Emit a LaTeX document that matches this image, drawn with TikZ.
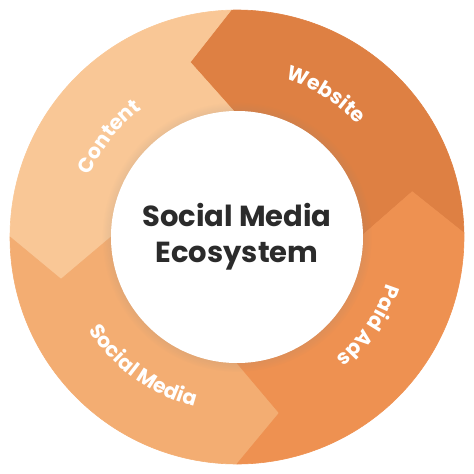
\documentclass[tikz,border=0pt]{standalone}
\usepackage{fontspec}
\setmainfont{Poppins}
\definecolor{peach(content)}{HTML}{F9C796}
\definecolor{burntorange(website)}{HTML}{DE8043}
\definecolor{orange(paidads)}{HTML}{EE9151}
\definecolor{sandybrown(social)}{HTML}{F3AD72}
\definecolor{charcoal(title)}{HTML}{2B2B2B}
\usetikzlibrary{decorations.text,shadows}

\begin{document}
\begin{tikzpicture}[x=1pt,y=1pt,
	ring part/.style={line width=0.6pt, line join=round, fill=#1, draw=#1},
	ring label/.style={decorate, decoration={text along path, text align=center, text color=white,
		text={|\bfseries\fontsize{20.5}{20.5}\selectfont|#1}}}]
	\useasboundingbox (-237,-237) rectangle (237,237);
	\filldraw[ring part=burntorange(website)] (1:227) arc[start angle=1, end angle=91.5, radius=227pt]
		-- (105:181) -- (91.5:126) arc[start angle=91.5, end angle=1, radius=126pt] -- (14.5:181) -- cycle;
	\filldraw[ring part=peach(content)] (91.5:227) arc[start angle=91.5, end angle=180, radius=227pt]
		-- (193.5:181) -- (180:126) arc[start angle=180, end angle=91.5, radius=126pt] -- (105:181) -- cycle;
	\filldraw[ring part=sandybrown(social)] (180:227) arc[start angle=180, end angle=270, radius=227pt]
		-- (283.5:181) -- (270:126) arc[start angle=270, end angle=180, radius=126pt] -- (193.5:181) -- cycle;
	\filldraw[ring part=orange(paidads)] (270:227) arc[start angle=270, end angle=361, radius=227pt]
		-- (374.5:181) -- (361:126) arc[start angle=361, end angle=270, radius=126pt] -- (283.5:181) -- cycle;
	\node[circle, fill=white, minimum size=252pt, inner sep=0pt, align=center,
		text=charcoal(title), font=\bfseries\fontsize{29}{36}\selectfont,
		circular drop shadow={shadow xshift=0pt, shadow yshift=0pt, shadow scale=1.07, opacity=.3}]
		(hub) at (0,0) {Social Media\\Ecosystem};
	\path[ring label=Website] (90:165) arc[start angle=90, end angle=26, radius=165pt];
	\path[ring label=Content] (174:159.5) arc[start angle=174, end angle=110, radius=159.5pt];
	\path[ring label=Social Media] (199:175) arc[start angle=199, end angle=269, radius=175pt];
	\path[ring label=Paid Ads] (2:156.5) arc[start angle=2, end angle=-70, radius=156.5pt];
\end{tikzpicture}
\end{document}
